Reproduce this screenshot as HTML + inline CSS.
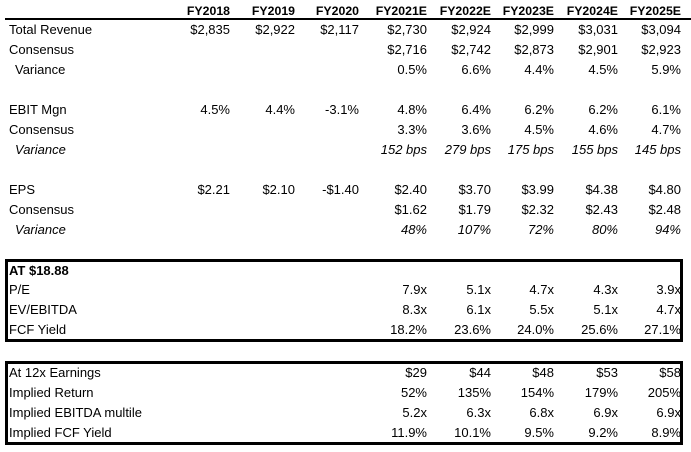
<!DOCTYPE html>
<html><head><meta charset="utf-8"><style>
body{margin:0;width:691px;height:452px;background:#fff;position:relative;overflow:hidden;font-family:"Liberation Sans",Arial,sans-serif;font-size:13px;color:#000}
.r{position:absolute;left:0;width:691px;height:20px;line-height:20px}
.r span{position:absolute;white-space:nowrap}
.l{left:9px}
.c1{right:461px}.c2{right:396px}.c3{right:332px}.c4{right:264px}.c5{right:200px}.c6{right:137px}.c7{right:73px}.c8{right:10px}
.i{font-style:italic}
.b{font-weight:bold}
.h{font-size:12.3px}
.box{position:absolute;left:5px;width:672px;border:3px solid #000;}
</style></head><body>
<div style="position:absolute;left:5px;top:18px;width:686px;height:2px;background:#000"></div>
<div class="r b h" style="top:1px"><span class="c1">FY2018</span><span class="c2">FY2019</span><span class="c3">FY2020</span><span class="c4">FY2021E</span><span class="c5">FY2022E</span><span class="c6">FY2023E</span><span class="c7">FY2024E</span><span class="c8">FY2025E</span></div>
<div class="r" style="top:20px"><span class="l">Total Revenue</span><span class="c1">$2,835</span><span class="c2">$2,922</span><span class="c3">$2,117</span><span class="c4">$2,730</span><span class="c5">$2,924</span><span class="c6">$2,999</span><span class="c7">$3,031</span><span class="c8">$3,094</span></div>
<div class="r" style="top:40px"><span class="l">Consensus</span><span class="c4">$2,716</span><span class="c5">$2,742</span><span class="c6">$2,873</span><span class="c7">$2,901</span><span class="c8">$2,923</span></div>
<div class="r" style="top:60px"><span class="l" style="left:15px">Variance</span><span class="c4">0.5%</span><span class="c5">6.6%</span><span class="c6">4.4%</span><span class="c7">4.5%</span><span class="c8">5.9%</span></div>
<div class="r" style="top:100px"><span class="l">EBIT Mgn</span><span class="c1">4.5%</span><span class="c2">4.4%</span><span class="c3">-3.1%</span><span class="c4">4.8%</span><span class="c5">6.4%</span><span class="c6">6.2%</span><span class="c7">6.2%</span><span class="c8">6.1%</span></div>
<div class="r" style="top:120px"><span class="l">Consensus</span><span class="c4">3.3%</span><span class="c5">3.6%</span><span class="c6">4.5%</span><span class="c7">4.6%</span><span class="c8">4.7%</span></div>
<div class="r i" style="top:140px"><span class="l" style="left:15px">Variance</span><span class="c4">152 bps</span><span class="c5">279 bps</span><span class="c6">175 bps</span><span class="c7">155 bps</span><span class="c8">145 bps</span></div>
<div class="r" style="top:180px"><span class="l">EPS</span><span class="c1">$2.21</span><span class="c2">$2.10</span><span class="c3">-$1.40</span><span class="c4">$2.40</span><span class="c5">$3.70</span><span class="c6">$3.99</span><span class="c7">$4.38</span><span class="c8">$4.80</span></div>
<div class="r" style="top:200px"><span class="l">Consensus</span><span class="c4">$1.62</span><span class="c5">$1.79</span><span class="c6">$2.32</span><span class="c7">$2.43</span><span class="c8">$2.48</span></div>
<div class="r i" style="top:220px"><span class="l" style="left:15px">Variance</span><span class="c4">48%</span><span class="c5">107%</span><span class="c6">72%</span><span class="c7">80%</span><span class="c8">94%</span></div>

<div class="box" style="top:259px;height:77px"></div>
<div class="r b" style="top:261px"><span class="l">AT $18.88</span></div>
<div class="r" style="top:280px"><span class="l">P/E</span><span class="c4">7.9x</span><span class="c5">5.1x</span><span class="c6">4.7x</span><span class="c7">4.3x</span><span class="c8">3.9x</span></div>
<div class="r" style="top:300px"><span class="l">EV/EBITDA</span><span class="c4">8.3x</span><span class="c5">6.1x</span><span class="c6">5.5x</span><span class="c7">5.1x</span><span class="c8">4.7x</span></div>
<div class="r" style="top:320px"><span class="l">FCF Yield</span><span class="c4">18.2%</span><span class="c5">23.6%</span><span class="c6">24.0%</span><span class="c7">25.6%</span><span class="c8">27.1%</span></div>

<div class="box" style="top:361px;height:78px"></div>
<div class="r" style="top:363px"><span class="l">At 12x Earnings</span><span class="c4">$29</span><span class="c5">$44</span><span class="c6">$48</span><span class="c7">$53</span><span class="c8">$58</span></div>
<div class="r" style="top:383px"><span class="l">Implied Return</span><span class="c4">52%</span><span class="c5">135%</span><span class="c6">154%</span><span class="c7">179%</span><span class="c8">205%</span></div>
<div class="r" style="top:403px"><span class="l">Implied EBITDA multile</span><span class="c4">5.2x</span><span class="c5">6.3x</span><span class="c6">6.8x</span><span class="c7">6.9x</span><span class="c8">6.9x</span></div>
<div class="r" style="top:423px"><span class="l">Implied FCF Yield</span><span class="c4">11.9%</span><span class="c5">10.1%</span><span class="c6">9.5%</span><span class="c7">9.2%</span><span class="c8">8.9%</span></div>
</body></html>
